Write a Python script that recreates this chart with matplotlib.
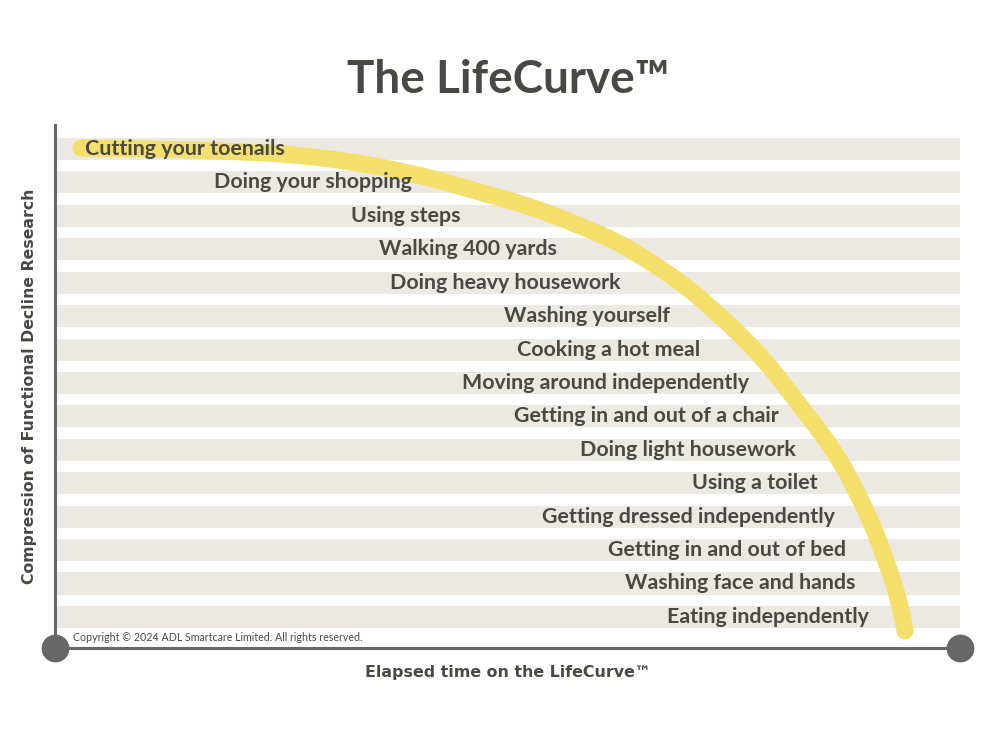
import matplotlib
matplotlib.use("Agg")
import matplotlib.pyplot as plt
from matplotlib.path import Path
from matplotlib.patches import PathPatch

plt.rcParams['font.family'] = ['Lato', 'DejaVu Sans']

activities = [
    "Cutting your toenails", "Doing your shopping", "Using steps",
    "Walking 400 yards", "Doing heavy housework", "Washing yourself",
    "Cooking a hot meal", "Moving around independently",
    "Getting in and out of a chair", "Doing light housework",
    "Using a toilet", "Getting dressed independently",
    "Getting in and out of bed", "Washing face and hands",
    "Eating independently",
]
# elapsed time at which each activity label is centred
label_time = [129.5, 257.5, 351, 413, 450.5, 531.5, 554, 550.5, 591.5,
              632.5, 699.5, 633.5, 672, 685.5, 712.5]
# the LifeCurve line (elapsed time, decline level in rows)
curve_time = [26, 95, 165, 225, 275, 325, 375, 425, 475, 525, 563, 600,
              635, 665, 690, 713, 733, 753, 773, 790, 803, 815, 825, 834,
              842, 848, 850]
curve_level = [-0.03, 0.00, 0.06, 0.15, 0.30, 0.54, 0.87, 1.29, 1.73, 2.30,
               2.81, 3.47, 4.22, 5.00, 5.71, 6.46, 7.21, 7.99, 8.79, 9.60,
               10.35, 11.10, 11.85, 12.59, 13.34, 14.09, 14.42]

title = "The LifeCurve\u2122"
ylabel = "Compression of Functional Decline Research"
xlabel = "Elapsed time on the LifeCurve\u2122"
copyright_txt = "Copyright \u00a9 2024 ADL Smartcare Limited. All rights reserved."

TEXT = "#4a4845"
BAR = "#ece9e3"
AXIS = "#676767"
YELLOW = "#f4df6a"

W, H = 1000, 737
fig = plt.figure(figsize=(W / 100, H / 100), dpi=100)
fig.patch.set_facecolor("white")

ax = fig.add_axes([55 / W, (H - 648) / H, 905 / W, (648 - 125) / H])
X_MAX, Y_TOP, Y_BOT = 905, -0.718, 14.93
ax.set_xlim(0, X_MAX)
ax.set_ylim(Y_BOT, Y_TOP)
ax.axis("off")

rows = list(range(len(activities)))
ax.barh(rows, [X_MAX] * len(rows), left=2, height=0.66, color=BAR, zorder=1)

# smooth curve through the read points (Catmull-Rom drawn as Bezier path)
pts = list(zip(curve_time, curve_level))
verts = [pts[0]]
codes = [Path.MOVETO]
n = len(pts)
for i in range(n - 1):
    p0 = pts[i - 1] if i > 0 else pts[i]
    p1 = pts[i]
    p2 = pts[i + 1]
    p3 = pts[i + 2] if i + 2 < n else pts[i + 1]
    c1 = (p1[0] + (p2[0] - p0[0]) / 6, p1[1] + (p2[1] - p0[1]) / 6)
    c2 = (p2[0] - (p3[0] - p1[0]) / 6, p2[1] - (p3[1] - p1[1]) / 6)
    verts += [c1, c2, p2]
    codes += [Path.CURVE4] * 3
ax.add_patch(PathPatch(Path(verts, codes), facecolor="none",
                       edgecolor=YELLOW, lw=12.3, capstyle="round",
                       joinstyle="round", zorder=2))

for r, name, t in zip(rows, activities, label_time):
    ax.text(t, r, name, ha="center", va="center", fontsize=15.4,
            fontweight="bold", color=TEXT, zorder=3)

# axes lines
ax.plot([0, 0], [Y_TOP, Y_BOT], color=AXIS, lw=2.2, clip_on=False, zorder=4)
ax.plot([0, X_MAX], [Y_BOT, Y_BOT], color=AXIS, lw=2.2, clip_on=False, zorder=4)
ax.scatter([0, X_MAX], [Y_BOT, Y_BOT], s=400, color=AXIS, clip_on=False,
           zorder=5, linewidths=0)

ax.text(18, 14.62, copyright_txt, ha="left", va="center", fontsize=7.7,
        color=TEXT, zorder=3)

fig.text(508 / W, 1 - 80 / H, title, ha="center", va="center",
         fontsize=33, fontweight="bold", color=TEXT)
fig.text(508 / W, 1 - 672 / H, xlabel, ha="center", va="center",
         fontsize=11.4, fontweight="bold", color=TEXT, family="DejaVu Sans")
fig.text(30 / W, 1 - 386 / H, ylabel, ha="center", va="center",
         rotation=90, fontsize=11.3, fontweight="bold", color=TEXT,
         family="DejaVu Sans")

fig.savefig("out.png", dpi=100, facecolor="white")
